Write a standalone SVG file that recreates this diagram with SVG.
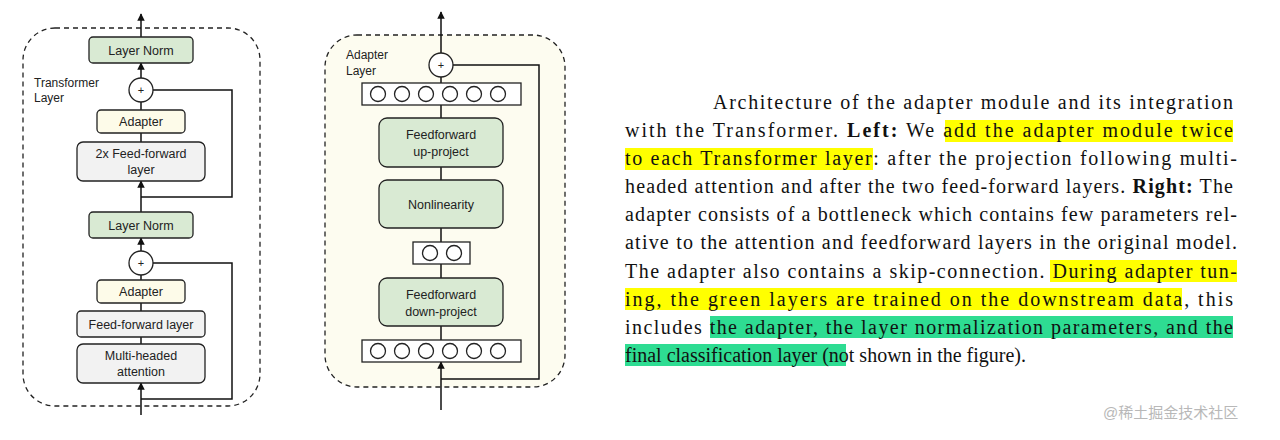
<svg xmlns="http://www.w3.org/2000/svg" width="1280" height="440" viewBox="0 0 1280 440">
<defs>
<marker id="ah" viewBox="0 0 10 10" refX="9" refY="5" markerWidth="5" markerHeight="6" orient="auto"><path d="M0,0 L10,5 L0,10 z" fill="#111"/></marker>
<style>
.n{stroke:#222;stroke-width:1.3}
.g{fill:#d9ead3}.y{fill:#fdfbe9}.w{fill:#f2f2f2}
.t{font-family:"Liberation Sans",Arial,sans-serif;font-size:12.5px;fill:#222;text-anchor:middle}
.l{font-family:"Liberation Sans",Arial,sans-serif;font-size:12px;fill:#222}
.c{stroke:#111;stroke-width:1.5;fill:none}
.o{fill:#fff;stroke:#222;stroke-width:1.3}
.p{font-family:"Liberation Serif","Times New Roman",serif;font-size:20px;fill:#111}
</style>
</defs>
<rect width="1280" height="440" fill="#fff"/>
<!-- left container -->
<rect x="23" y="28" width="237" height="378" rx="32" fill="#fff" stroke="#222" stroke-width="1.3" stroke-dasharray="5,4"/>
<text class="l" x="34" y="87">Transformer</text><text class="l" x="34" y="102">Layer</text>
<!-- right container -->
<rect x="325" y="35" width="240" height="352" rx="32" fill="#fdfcf0" stroke="#222" stroke-width="1.3" stroke-dasharray="5,4"/>
<text class="l" x="346" y="59">Adapter</text><text class="l" x="346" y="75">Layer</text>
<g id="connectors">
<line class="c" x1="141" y1="37" x2="141" y2="14" marker-end="url(#ah)"/>
<line class="c" x1="141" y1="78" x2="141" y2="63" marker-end="url(#ah)"/>
<line class="c" x1="141" y1="110" x2="141" y2="102"/>
<line class="c" x1="141" y1="142" x2="141" y2="133"/>
<polyline class="c" points="153,90 232,90 232,197 141,197"/>
<line class="c" x1="141" y1="212" x2="141" y2="181" marker-end="url(#ah)"/>
<line class="c" x1="141" y1="251" x2="141" y2="238" marker-end="url(#ah)"/>
<line class="c" x1="141" y1="280" x2="141" y2="275"/>
<line class="c" x1="141" y1="311" x2="141" y2="303"/>
<line class="c" x1="141" y1="344" x2="141" y2="337"/>
<polyline class="c" points="153,263 232,263 232,399 141,399"/>
<line class="c" x1="141" y1="415" x2="141" y2="383" marker-end="url(#ah)"/>
<line class="c" x1="441" y1="53" x2="441" y2="12" marker-end="url(#ah)"/>
<line class="c" x1="441" y1="83" x2="441" y2="77"/>
<line class="c" x1="441" y1="118" x2="441" y2="105"/>
<line class="c" x1="441" y1="180" x2="441" y2="167"/>
<line class="c" x1="441" y1="242" x2="441" y2="228"/>
<line class="c" x1="441" y1="278" x2="441" y2="264"/>
<line class="c" x1="441" y1="340" x2="441" y2="326"/>
<polyline class="c" points="453,65 539,65 539,379 441,379"/>
<line class="c" x1="441" y1="410" x2="441" y2="362" marker-end="url(#ah)"/>
</g>
<g id="ln-top"><rect class="n g" x="89" y="37" width="104" height="26" rx="4"/><text class="t" x="141" y="55">Layer Norm</text></g>
<g id="plus-top"><circle class="o" cx="141" cy="90" r="12"/><text class="t" x="141" y="94" style="font-size:11px">+</text></g>
<g id="adapter-top"><rect class="n y" x="97" y="110" width="88" height="23" rx="4"/><text class="t" x="141" y="126">Adapter</text></g>
<g id="ff2x"><rect class="n w" x="77" y="142" width="128" height="39" rx="6"/><text class="t" x="141" y="158">2x Feed-forward</text><text class="t" x="141" y="174">layer</text></g>
<g id="ln-bot"><rect class="n g" x="89" y="212" width="104" height="26" rx="4"/><text class="t" x="141" y="230">Layer Norm</text></g>
<g id="plus-bot"><circle class="o" cx="141" cy="263" r="12"/><text class="t" x="141" y="267" style="font-size:11px">+</text></g>
<g id="adapter-bot"><rect class="n y" x="97" y="280" width="88" height="23" rx="4"/><text class="t" x="141" y="296">Adapter</text></g>
<g id="ff"><rect class="n w" x="77" y="311" width="128" height="26" rx="4"/><text class="t" x="141" y="329">Feed-forward layer</text></g>
<g id="mha"><rect class="n w" x="77" y="344" width="128" height="39" rx="6"/><text class="t" x="141" y="360">Multi-headed</text><text class="t" x="141" y="376">attention</text></g>
<!-- right -->
<g id="plus-ad"><circle class="o" cx="441" cy="65" r="12"/><text class="t" x="441" y="69" style="font-size:11px">+</text></g>
<g id="vec-top"><rect class="n" fill="#fff" x="362" y="83" width="159" height="22"/>
<circle class="o" cx="378" cy="94" r="7.5"/><circle class="o" cx="402" cy="94" r="7.5"/><circle class="o" cx="426" cy="94" r="7.5"/><circle class="o" cx="450" cy="94" r="7.5"/><circle class="o" cx="474" cy="94" r="7.5"/><circle class="o" cx="498" cy="94" r="7.5"/></g>
<g id="ff-up"><rect class="n g" x="379" y="118" width="124" height="49" rx="8"/><text class="t" x="441" y="139">Feedforward</text><text class="t" x="441" y="156">up-project</text></g>
<g id="nonlin"><rect class="n g" x="379" y="180" width="124" height="48" rx="8"/><text class="t" x="441" y="209">Nonlinearity</text></g>
<g id="vec-mid"><rect class="n" fill="#fff" x="413" y="242" width="57" height="22"/><circle class="o" cx="430" cy="253" r="7.5"/><circle class="o" cx="454" cy="253" r="7.5"/></g>
<g id="ff-down"><rect class="n g" x="379" y="278" width="124" height="48" rx="8"/><text class="t" x="441" y="299">Feedforward</text><text class="t" x="441" y="316">down-project</text></g>
<g id="vec-bot"><rect class="n" fill="#fff" x="362" y="340" width="159" height="22"/>
<circle class="o" cx="378" cy="351" r="7.5"/><circle class="o" cx="402" cy="351" r="7.5"/><circle class="o" cx="426" cy="351" r="7.5"/><circle class="o" cx="450" cy="351" r="7.5"/><circle class="o" cx="474" cy="351" r="7.5"/><circle class="o" cx="498" cy="351" r="7.5"/></g>
<!-- caption highlights -->
<rect x="945" y="120" width="288" height="22" fill="#ffff00"/>
<rect x="625" y="148" width="248" height="22" fill="#ffff00"/>
<rect x="1050" y="260" width="187" height="22" fill="#ffff00"/>
<rect x="625" y="288" width="557" height="22" fill="#ffff00"/>
<rect x="710" y="316" width="523" height="22" fill="#2edc92"/>
<rect x="625" y="344" width="221" height="22" fill="#2edc92"/>
<g id="caption">
<text class="p" x="713" y="109" textLength="520" lengthAdjust="spacing">Architecture of the adapter module and its integration</text>
<text class="p" x="625" y="137" textLength="608" lengthAdjust="spacing">with the Transformer.  <tspan font-weight="bold">Left:</tspan> We add the adapter module twice</text>
<text class="p" x="625" y="165" textLength="612" lengthAdjust="spacing">to each Transformer layer:  after the projection following multi-</text>
<text class="p" x="625" y="193" textLength="608" lengthAdjust="spacing">headed attention and after the two feed-forward layers. <tspan font-weight="bold">Right:</tspan> The</text>
<text class="p" x="625" y="221" textLength="612" lengthAdjust="spacing">adapter consists of a bottleneck which contains few parameters rel-</text>
<text class="p" x="625" y="249" textLength="612" lengthAdjust="spacing">ative to the attention and feedforward layers in the original model.</text>
<text class="p" x="625" y="278" textLength="612" lengthAdjust="spacing">The adapter also contains a skip-connection. During adapter tun-</text>
<text class="p" x="625" y="306" textLength="608" lengthAdjust="spacing">ing, the green layers are trained on the downstream data, this</text>
<text class="p" x="625" y="334" textLength="608" lengthAdjust="spacing">includes the adapter, the layer normalization parameters, and the</text>
<text class="p" x="625" y="362">final classification layer (not shown in the figure).</text>
</g>
<text x="1103" y="418" font-family="'Liberation Sans','Noto Sans CJK SC',sans-serif" font-size="15" fill="#b8b8b8">@稀土掘金技术社区</text>
</svg>
